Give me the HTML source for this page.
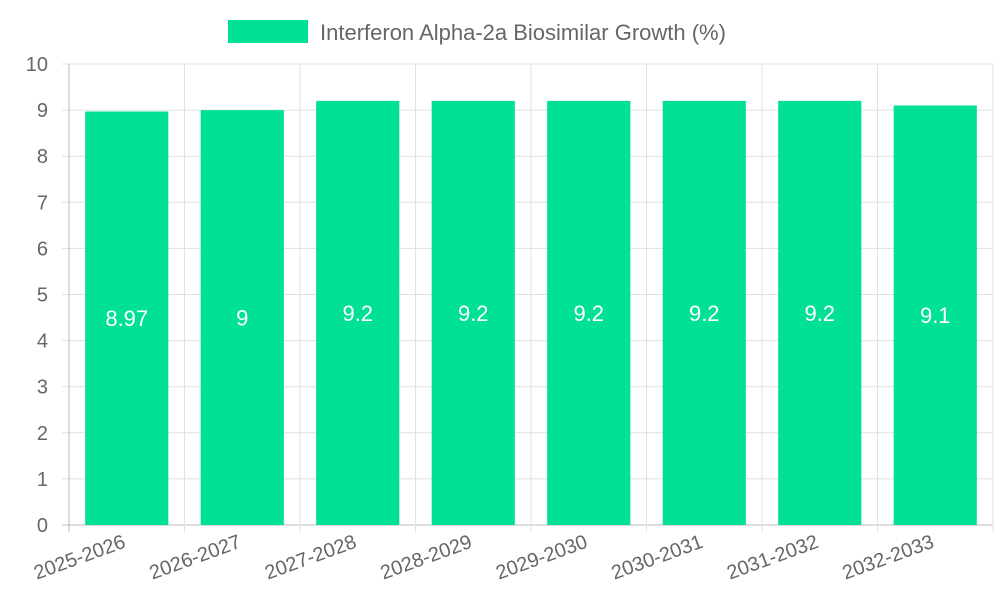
<!DOCTYPE html>
<html><head><meta charset="utf-8"><style>
body{margin:0;background:#fff;}
svg{font-family:"Liberation Sans",sans-serif;}
</style></head><body>
<svg id="chart" width="1000" height="600" viewBox="0 0 1000 600" xmlns="http://www.w3.org/2000/svg">
<g id="legend">
<rect x="228" y="20" width="80" height="23" fill="#00e096"></rect>
<text x="320" y="40" font-size="22" fill="#666">Interferon Alpha-2a Biosimilar Growth (%)</text>
</g>
<g id="grid"></g><g id="bars"></g><g id="axes"></g>
</svg>
<script>
const categories=["2025-2026","2026-2027","2027-2028","2028-2029","2029-2030","2030-2031","2031-2032","2032-2033"];
const values=[8.97,9,9.2,9.2,9.2,9.2,9.2,9.1];
const valueLabels=["8.97","9","9.2","9.2","9.2","9.2","9.2","9.1"];
const yTicks=[0,1,2,3,4,5,6,7,8,9,10];
const L=69,R=993,T=64,B=525,yMax=10;
const NS="http://www.w3.org/2000/svg";
const y=v=>B-(v/yMax)*(B-T);
const bw=(R-L)/categories.length;
const x=i=>L+bw*i;
function mk(tag,attrs,parent,text){const e=document.createElementNS(NS,tag);for(const k in attrs)e.setAttribute(k,attrs[k]);if(text!==undefined)e.textContent=text;parent.appendChild(e);return e;}
const grid=document.getElementById('grid'),bars=document.getElementById('bars'),axes=document.getElementById('axes');
yTicks.forEach(t=>{
 const g=mk('line',{x1:L-7,x2:R,y1:y(t),y2:y(t),stroke:t===0?'#bbb':'#e1e1e1','stroke-width':1},grid);
 
 
 const lb=mk('text',{x:L-21,y:y(t)+7,'text-anchor':'end','font-size':20,fill:'#666'},axes,String(t));
 
 
});
for(let i=0;i<=categories.length;i++){
 const g=mk('line',{x1:x(i),x2:x(i),y1:T,y2:B+7,stroke:i===0?'#bbb':'#e1e1e1','stroke-width':1},grid);
 
 
}
categories.forEach((c,i)=>{
 const w=bw*0.72,bx=x(i)+(bw-w)/2;
 const r=mk('rect',{x:bx,y:y(values[i]),width:w,height:B-y(values[i]),fill:'#00e096'},bars);
 
 
 const vl=mk('text',{x:bx+w/2,y:(y(values[i])+B)/2+8,'text-anchor':'middle','font-size':22,fill:'#fff'},bars,valueLabels[i]);
 
 
 const cx=x(i)+bw/2;
 const xl=mk('text',{x:cx,y:B+22,'text-anchor':'end','font-size':20,fill:'#666',transform:`rotate(-20 ${cx} ${B+22})`},axes,c);
 
 
});
</script>
</body></html>
